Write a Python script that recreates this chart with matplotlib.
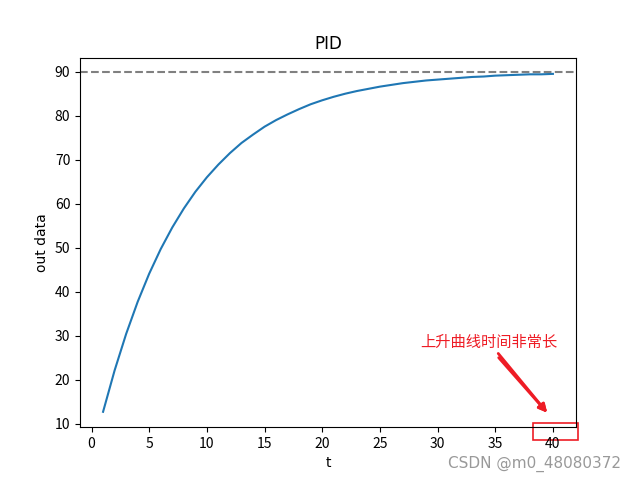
import matplotlib.pyplot as plt
from matplotlib.patches import Rectangle

plt.rcParams['font.family'] = ['Noto Sans CJK SC', 'DejaVu Sans']

t = list(range(1, 41))
out_data = [12.7, 22.1, 30.4, 37.7, 44.1, 49.7, 54.6, 58.9, 62.7, 66.0,
            68.9, 71.5, 73.8, 75.7, 77.5, 79.0, 80.3, 81.5, 82.6, 83.5,
            84.3, 85.0, 85.6, 86.1, 86.6, 87.0, 87.4, 87.7, 88.0, 88.2,
            88.4, 88.6, 88.8, 88.9, 89.1, 89.2, 89.3, 89.4, 89.4, 89.5]
target = 90

fig, ax = plt.subplots(figsize=(6.4, 4.8), dpi=100)
ax.plot(t, out_data)
ax.axhline(target, color='gray', linestyle='--')
ax.set_title('PID', family='DejaVu Sans')
ax.set_xlabel('t', family='DejaVu Sans')
ax.set_ylabel('out data', family='DejaVu Sans')
ax.set_xticks(range(0, 41, 5))
ax.set_ylim(9.2, 93.2)
ax.set_xlim(-1, 42)

ax.annotate('上升曲线时间非常长', xy=(39.5, 12.5), xytext=(28.5, 27.5),
            color='#ee1c25', fontsize=11,
            arrowprops=dict(arrowstyle='-|>', color='#ee1c25', lw=2,
                            shrinkA=0, shrinkB=0, mutation_scale=12),
            annotation_clip=False)
ax.annotate('', xy=(39.5, 12.5), xytext=(35.3, 25), annotation_clip=False,
            arrowprops=dict(arrowstyle='-|>', color='#ee1c25', lw=2,
                            shrinkA=0, shrinkB=0, mutation_scale=12))
ax.add_patch(Rectangle((38.3, 6.3), 3.9, 3.8, fill=False, edgecolor='#ee1c25',
                       lw=1.2, clip_on=False))

fig.text(0.7, 0.025, 'CSDN @m0_48080372', color='#999999', fontsize=11,
         family='DejaVu Sans')

plt.savefig('out.png')
